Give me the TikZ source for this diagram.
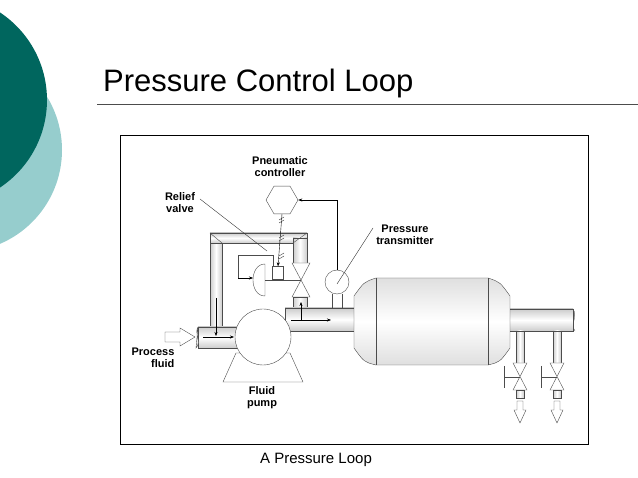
\documentclass[tikz,border=0pt]{standalone}
\usepackage{fontspec}
\setmainfont{Liberation Sans}
\usetikzlibrary{shapes.geometric,arrows.meta}
\definecolor{tealdark}{RGB}{0,102,94}
\definecolor{teallight}{RGB}{150,205,205}
\tikzset{
  lbl/.style={font=\bfseries\fontsize{11}{12}\selectfont, align=center},
  hpipe/.style={draw=black!70, top color=gray!40, bottom color=gray!40, middle color=white},
  vpipe/.style={draw=black!70, left color=gray!40, right color=gray!40, middle color=white},
  flow/.style={-{Stealth[length=4pt]}, thin},
  valve/.style={draw=black!70, fill=white}
}
\begin{document}
\begin{tikzpicture}[x=1pt, y=-1pt]
    \useasboundingbox (0,0) rectangle (638,478);
    % Background discs
    \fill[teallight] (-40,150) circle (102);
    \fill[tealdark] (-58,100) circle (105);
    % Title
    \node[anchor=base west, inner sep=0pt, font=\fontsize{31}{34}\selectfont] (title) at (103,92) {Pressure Control Loop};
    \draw[black!70] (97,104) -- (638,104);
    \draw[line width=1pt] (120,136) rectangle (588,445);
    \node[font=\fontsize{15}{17}\selectfont] (caption) at (316,460) {A Pressure Loop};

    % Bypass line
    \path[vpipe] (210,238) rectangle (222,327);
    \path[hpipe] (210,233) rectangle (307,243);
    \path[vpipe] (293,238) rectangle (307,263);
    \path[vpipe] (293,297) rectangle (307,308);
    \draw[black!70] (210,243) -- (210,233) -- (307,233) -- (307,243);
    \draw[black!70] (210,233) -- (222,243) (307,233) -- (293,243);

    % Main pipes
    \path[hpipe] (198,327) rectangle (240,348);
    \draw[black!70, fill=gray!15] (198,327) .. controls (194,333) and (202,342) .. (196,348) -- (198,327);
    \path[hpipe] (285,308) rectangle (356,331);
    \path[hpipe] (508,309) rectangle (573,331);
    \draw[black!70] (573,309) .. controls (578,316) and (570,324) .. (575,331);

    % Pump
    \draw[black!70, fill=white] (236,353) -- (290,353) -- (303,382) -- (223,382) -- cycle;
    \node[circle, draw=black!70, fill=white, minimum size=56pt, inner sep=0pt] (pump) at (263,337) {};

    % Vessel
    \draw[black!70, top color=gray!25, bottom color=gray!25, middle color=white]
      (376,278) -- (488,278) .. controls (500,282) .. (510,296) -- (510,348)
      .. controls (500,362) .. (488,365) -- (376,365) .. controls (364,362) .. (354,348)
      -- (354,296) .. controls (364,282) .. (376,278) -- cycle;
    \draw[black!70] (376,278) -- (376,365) (488,278) -- (488,365);

    % Control valve and actuator
    \draw[valve] (292,263) -- (310,263) -- (292,297) -- (310,297) -- cycle;
    \draw[black!70] (265,280) -- (301,280);
    \draw[black!70, fill=white] (265,264) .. controls (249,264) and (249,296) .. (265,296) -- cycle;
    \node[rectangle, draw=black!70, fill=white, minimum width=11pt, minimum height=13pt, inner sep=0pt] (act) at (278,273) {};
    \coordinate (loopa) at (238,255);
    \coordinate (loopb) at (238,278);
    \coordinate (dome) at (253,278);
    \draw[black!70] (273,266) -- (273,255) -- (loopa) -- (loopb);
    \draw[flow] (loopb) -- (dome);

    % Controller and transmitter
    \node[regular polygon, regular polygon sides=6, draw=black!70, fill=white, minimum size=32pt, inner sep=0pt] (ctrl) at (282,200) {};
    \node[circle, draw=black!70, fill=white, minimum size=24pt, inner sep=0pt] (pt) at (337,282) {};
    \draw[black!70] (332,294) -- (332,308) (342,294) -- (342,308);
    \draw[flow] (pt.north) |- (ctrl.east);
    \draw[flow] (ctrl.south) -- (act.north);
    \foreach \y in {220,238,256} {
      \draw[black!80] (279,\y) -- +(5,-3) (279,\y+3) -- +(5,-3);
    }

    % Flow arrows
    \draw[flow] (216,298) -- (216,336);
    \draw[flow] (203,337) -- (234,337);
    \draw[flow] (301,320) -- (301,302);
    \draw[flow] (291,320) -- (331,320);

    % Drains
    \foreach \x in {520,557} {
      \path[vpipe] (\x-4,331) rectangle (\x+4,363);
      \path[vpipe] (\x-4,390) rectangle (\x+4,398);
      \draw[valve] (\x-7,363) -- (\x+7,363) -- (\x-7,390) -- (\x+7,390) -- cycle;
      \draw[black!70] (\x,377) -- (\x-16,377) (\x-16,366) -- (\x-16,388);
      \draw[black!70, fill=white] (\x-3,401) -- (\x+3,401) -- (\x+3,410) -- (\x+6,410)
        -- (\x,423) -- (\x-6,410) -- (\x-3,410) -- cycle;
    }

    % Inlet arrow
    \draw[black!70, fill=white] (165,332) -- (180,332) -- (180,328) -- (195,337)
      -- (180,346) -- (180,342) -- (165,342) -- cycle;

    % Labels
    \node[lbl] (lctrl) at (280,167) {Pneumatic\\controller};
    \node[lbl] (lrelief) at (180,203) {Relief\\valve};
    \node[lbl] (lpt) at (405,235) {Pressure\\transmitter};
    \node[lbl, align=right] (lfluid) at (153,358) {Process\\fluid};
    \node[lbl] (lpump) at (262,398) {Fluid\\pump};
    \draw[black!80] (200,199) -- (267,251);
    \draw[black!80] (373,228) -- (337,284);
\end{tikzpicture}
\end{document}
